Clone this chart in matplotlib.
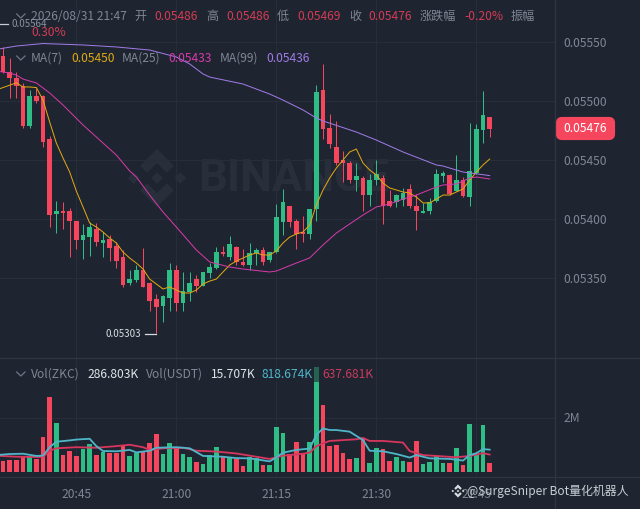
import numpy as np
import matplotlib
matplotlib.use("Agg")
import matplotlib.pyplot as plt
from matplotlib.patches import FancyBboxPatch, Polygon, Rectangle

plt.rcParams['font.family'] = ['Noto Sans CJK SC', 'DejaVu Sans']

# one minute candles, 20:34 to 21:47, prices in 1e-5
opens = [5538,5524,5519,5512,5478,5504,5504,5467,5404,5406,5406,5398,5382,5384,5391,5379,5383,5377,5367,5345,
         5348,5356,5345,5332,5326,5333,5356,5328,5338,5349,5343,5354,5358,5372,5367,5376,5363,5361,5371,5373,
         5365,5372,5397,5411,5398,5389,5387,5408,5509,5477,5461,5450,5447,5433,5434,5420,5433,5434,5415,5414,
         5416,5425,5411,5405,5406,5415,5436,5437,5423,5433,5418,5439,5475,5486]
highs = [5545,5536,5524,5515,5509,5511,5505,5470,5415,5414,5409,5398,5395,5397,5396,5389,5386,5380,5373,5356,
         5361,5375,5346,5336,5335,5362,5361,5355,5355,5352,5355,5362,5376,5377,5385,5377,5374,5379,5375,5376,
         5372,5412,5425,5411,5400,5402,5408,5513,5531,5489,5483,5457,5449,5447,5436,5438,5450,5437,5424,5421,
         5426,5429,5421,5413,5417,5442,5440,5438,5454,5435,5481,5480,5508,5486]
lows = [5523,5502,5502,5477,5477,5498,5461,5393,5388,5391,5367,5374,5366,5368,5377,5367,5364,5358,5342,5344,
        5346,5342,5322,5303,5312,5322,5322,5322,5330,5338,5343,5350,5357,5368,5365,5361,5360,5356,5361,5361,
        5363,5371,5386,5393,5374,5380,5383,5398,5467,5460,5445,5431,5430,5423,5406,5411,5428,5395,5410,5410,
        5411,5409,5390,5405,5404,5414,5431,5420,5423,5418,5411,5438,5464,5469]
closes = [5524,5519,5512,5478,5504,5500,5465,5403,5406,5405,5398,5382,5386,5393,5380,5382,5375,5364,5344,5349,
          5356,5342,5330,5325,5334,5356,5328,5339,5345,5343,5355,5359,5372,5370,5378,5363,5361,5371,5373,5363,
          5372,5401,5414,5397,5387,5387,5408,5507,5476,5463,5447,5447,5433,5436,5420,5433,5438,5411,5411,5420,
          5422,5411,5406,5406,5414,5438,5439,5421,5433,5419,5440,5476,5488,5476]

# volume in millions
volumes = [.40,.45,.45,.54,.54,.49,1.28,2.75,1.79,.62,.76,.57,.86,1.03,.61,.75,.70,.70,.99,.59,
           .71,.75,1.06,1.39,.67,1.05,.88,.66,.54,.35,.28,.62,.92,.57,.54,.48,.21,.54,.51,.24,
           .27,1.65,1.43,.67,1.10,.65,1.10,3.85,2.46,.95,.99,.71,.48,.53,1.26,.32,.87,.83,.39,.54,
           .39,.38,1.13,.29,.37,.60,.32,.32,.87,.24,1.75,.62,1.72,.32]

# moving averages, first point is just left of the edge
ma7_idx = list(range(-1, 74))
ma7 = [5509,5511,5513,5515,5511.5,5511.5,5511,5500.4,5481.8,5464,5451.3,5439.4,5423.3,5409.8,5396.2,5392.8,5388.6,5383.5,
       5379.3,5371.6,5366.5,5362.3,5357.2,5348.7,5344.5,5340.3,5342,5339.4,5336.9,5336.9,5339.4,5344.5,5347,5348.7,5354.7,
       5360.6,5364,5366.5,5369.1,5370.8,5369.1,5369.1,5372.5,5379.3,5384.3,5386.9,5388.6,5394.5,5411.5,5424.2,5434.3,5442.8,
       5449.6,5456.4,5458.9,5447,5441.1,5436.9,5430,5425.9,5424.2,5422.5,5421.6,5418.2,5413.2,5413.2,5416.5,5419.9,5419.9,
       5422.5,5425,5432.6,5439.4,5445.4,5450.4]
ma25_idx = [-1,1,2,3,5,7,9,12,15,17,19,20,22,24,26,29,31,34,36,40,41,44,46,48,50,52,54,56,58,60,62,65,66,68,70,71,73]
ma25 = [5525,5523.3,5521.6,5518.2,5514.9,5506.4,5496.2,5479.3,5464,5453.8,5440.3,5435.2,5419.9,5405.5,5392.8,5373.3,5363.2,
        5358.9,5357.2,5354.7,5355.5,5362.3,5366.6,5377.6,5387.7,5395.4,5403,5409.8,5412.3,5416.5,5419.9,5426.7,5428.4,5429.3,
        5434.3,5435.2,5433.5]
ma99_idx = [-1,2,6,12,17,22,26,28,30,31,36,40,42,45,47,48,53,56,60,65,66,69,73]
ma99 = [5543.3,5546.2,5548.3,5547.1,5545.4,5542.8,5536.9,5531,5522.5,5519.9,5514,5505.5,5500.4,5492,5485.2,5482.7,5473.3,
        5466.5,5456.4,5445.4,5444.5,5439.4,5436.4]

vol_blue_idx = [-1,1,3,5,6,7,8,10,11,13,14,15,17,19,20,22,23,26,28,30,33,35,37,40,41,42,44,46,47,48,49,50,52,54,55,57,59,61,62,64,67,69,70,71,72,73]
vol_blue = [.62,.66,.67,.59,.60,.91,1.11,1.16,1.19,1.22,.95,.77,.76,.81,.72,.78,.89,.91,.87,.59,.56,.51,.50,.39,.54,.71,.81,.86,
            1.36,1.60,1.54,1.54,1.48,1.17,.78,.76,.66,.53,.62,.50,.48,.42,.62,.69,.84,.82]
vol_red_idx = [-1,2,6,7,8,11,14,17,19,21,22,24,27,29,32,35,38,40,42,45,46,47,48,49,51,53,54,55,57,60,61,63,65,68,70,72,73]
vol_red = [.60,.56,.55,.78,.87,.91,.89,.95,1.00,.91,.81,.87,.89,.78,.75,.68,.56,.48,.60,.67,.71,.95,1.05,1.14,1.17,1.20,1.25,
           1.14,1.14,1.08,.77,.62,.59,.54,.59,.69,.64]

price_ticks = [0.05350, 0.05400, 0.05450, 0.05500, 0.05550]
time_ticks = [11, 26, 41, 56, 71]
time_labels = ["20:45", "21:00", "21:15", "21:30", "21:45"]

BG = "#1e2530"
GRID = "#272e39"
EDGE = "#2f3641"
RED = "#f6465d"
GREEN = "#2ebd85"
GREY = "#7f8794"
DIMRED = "#d43b55"
MARK = "#282f3a"
W, H = 640, 509


def binance_logo(ax, cx, cy, r, color, zorder):
    # top and bottom chevrons plus three small diamonds
    chevron = [(0, -1), (.58, -.42), (.34, -.18), (0, -.52), (-.34, -.18), (-.58, -.42)]
    for sign in (1, -1):
        ax.add_patch(Polygon([(cx + a * r, cy + sign * b * r) for a, b in chevron], color=color, lw=0, zorder=zorder))
    for dx in (-.8, 0, .8):
        d = [(dx - .2, 0), (dx, -.2), (dx + .2, 0), (dx, .2)]
        ax.add_patch(Polygon([(cx + a * r, cy + b * r) for a, b in d], color=color, lw=0, zorder=zorder))


fig = plt.figure(figsize=(W / 100, H / 100), dpi=100, facecolor=BG)


def px_axes(x0, y0, x1, y1, **kw):
    return fig.add_axes([x0 / W, 1 - y1 / H, (x1 - x0) / W, (y1 - y0) / H], **kw)


# watermark sits under everything
back = px_axes(0, 0, W, H, zorder=0)
back.set_xlim(0, W)
back.set_ylim(H, 0)
back.axis("off")
back.set_facecolor(BG)
binance_logo(back, 157, 178, 29, MARK, 1)
back.text(198, 179, "BINANCE", fontsize=32.5, fontweight="bold", family="Roboto", color=MARK, va="center")

x_lim = (-3 / 6.667, (555 - 3) / 6.667)

o = np.array(opens) / 1e5
h = np.array(highs) / 1e5
l = np.array(lows) / 1e5
c = np.array(closes) / 1e5
idx = np.arange(len(o))
colors = [GREEN if c[i] >= o[i] else RED for i in idx]

ax = px_axes(0, 0, 555, 358, zorder=1)
ax.patch.set_alpha(0)
ax.vlines(idx, l, h, colors=colors, lw=0.72, zorder=3)
ax.bar(idx, np.abs(c - o), bottom=np.minimum(o, c), width=0.72, color=colors, zorder=4)
ax.plot(ma7_idx, np.array(ma7) / 1e5, color="#e0a912", lw=0.72, zorder=5)
ax.plot(ma25_idx, np.array(ma25) / 1e5, color="#d63aa8", lw=0.72, zorder=5)
ax.plot(ma99_idx, np.array(ma99) / 1e5, color="#a07ae6", lw=0.72, zorder=5)
ax.set_xlim(*x_lim)
ax.set_ylim(0.052818, 0.055852)
ax.set_xticks(time_ticks)
ax.set_xticklabels([])
ax.set_yticks(price_ticks)
ax.set_yticklabels(["%.5f" % p for p in price_ticks])
ax.yaxis.tick_right()
ax.tick_params(length=0, colors=GREY, labelsize=8.7, pad=5.8)
ax.grid(color=GRID, lw=0.75, zorder=0)
for s in ax.spines.values():
    s.set_visible(False)

vax = px_axes(0, 358, 555, 477, zorder=1)
vax.patch.set_alpha(0)
vax.bar(idx, volumes, width=0.72, color=colors, zorder=3)
vax.plot(vol_red_idx, vol_red, color="#d8365e", lw=1.3, zorder=4)
vax.plot(vol_blue_idx, vol_blue, color="#4fb6c9", lw=1.3, zorder=5)
vax.set_xlim(*x_lim)
vax.set_ylim(-5 / 27.25, 114 / 27.25)
vax.set_xticks(time_ticks)
vax.set_xticklabels(time_labels)
vax.set_yticks([2])
vax.set_yticklabels(["2M"])
vax.yaxis.tick_right()
vax.tick_params(length=0, colors=GREY, labelsize=8.7)
vax.tick_params(axis="y", pad=5.8)
vax.tick_params(axis="x", pad=8)
vax.grid(color=GRID, lw=0.75, zorder=0)
for s in vax.spines.values():
    s.set_visible(False)

# labels and panel edges, placed in pixels
top = px_axes(0, 0, W, H, zorder=3)
top.set_xlim(0, W)
top.set_ylim(H, 0)
top.axis("off")
top.patch.set_alpha(0)

top.plot([0, W], [358, 358], color=EDGE, lw=0.9)
top.plot([0, W], [477, 477], color=EDGE, lw=0.9)
top.plot([555, 555], [0, H], color=EDGE, lw=0.9)

# legend strip dims the tall volume bar
top.add_patch(Rectangle((25, 367), 350, 15, color=BG, alpha=0.6, lw=0))


def txt(x, y, s, color=GREY, size=8.7, **kw):
    top.text(x, y, s, color=color, fontsize=size, va="center", **kw)


def chevron(y):
    top.plot([16.7, 20.8, 25], [y - 2, y + 2, y - 2], color="#6f7785", lw=0.9)


chevron(16)
chevron(58)
chevron(374)

for x, s, col in [(31, "2026/08/31 21:47", GREY), (134, "开", GREY), (154, "0.05486", DIMRED), (206, "高", GREY),
                  (226, "0.05486", DIMRED), (277, "低", GREY), (297, "0.05469", DIMRED), (349, "收", GREY),
                  (368.6, "0.05476", DIMRED), (420, "涨跌幅", GREY), (464, "-0.20%", DIMRED), (511, "振幅", GREY)]:
    txt(x, 16, s, col)
txt(31, 32, "0.30%", DIMRED)

for x, s, col in [(31, "MA(7)", GREY), (71, "0.05450", "#e0a912"), (122, "MA(25)", GREY), (168, "0.05433", "#d63aa8"),
                  (220, "MA(99)", GREY), (266, "0.05436", "#a07ae6")]:
    txt(x, 58, s, col)

for x, s, col in [(31, "Vol(ZKC)", GREY), (87, "286.803K", "#dfe3e8"), (146, "Vol(USDT)", GREY), (211, "15.707K", "#dfe3e8"),
                  (262, "818.674K", "#4fb6c9"), (322, "637.681K", "#c93a5c")]:
    txt(x, 374, s, col)

# high and low markers
top.plot([0, 8], [24, 24], color="#c8ccd2", lw=0.9)
txt(11, 24, "0.05564", "#8b929e", size=7)
top.plot([145, 156], [333.5, 333.5], color="#d8dce2", lw=0.9)
txt(105, 334, "0.05303", "#d8dce2", size=7)

# last price tag
top.add_patch(FancyBboxPatch((558, 119), 55, 19, boxstyle="round,pad=0,rounding_size=4", mutation_aspect=1,
                             fc=RED, ec=RED, lw=3))
top.text(585.5, 128.5, "0.05476", color="white", fontsize=8.7, ha="center", va="center")

# poster tag at the bottom
binance_logo(top, 458, 491, 6.5, "#d8dce2", 6)
txt(467, 491, "@SurgeSniper Bot量化机器人", "#c8ccd2", size=8.6, zorder=6)

fig.savefig("out.png", dpi=100, facecolor=BG)
